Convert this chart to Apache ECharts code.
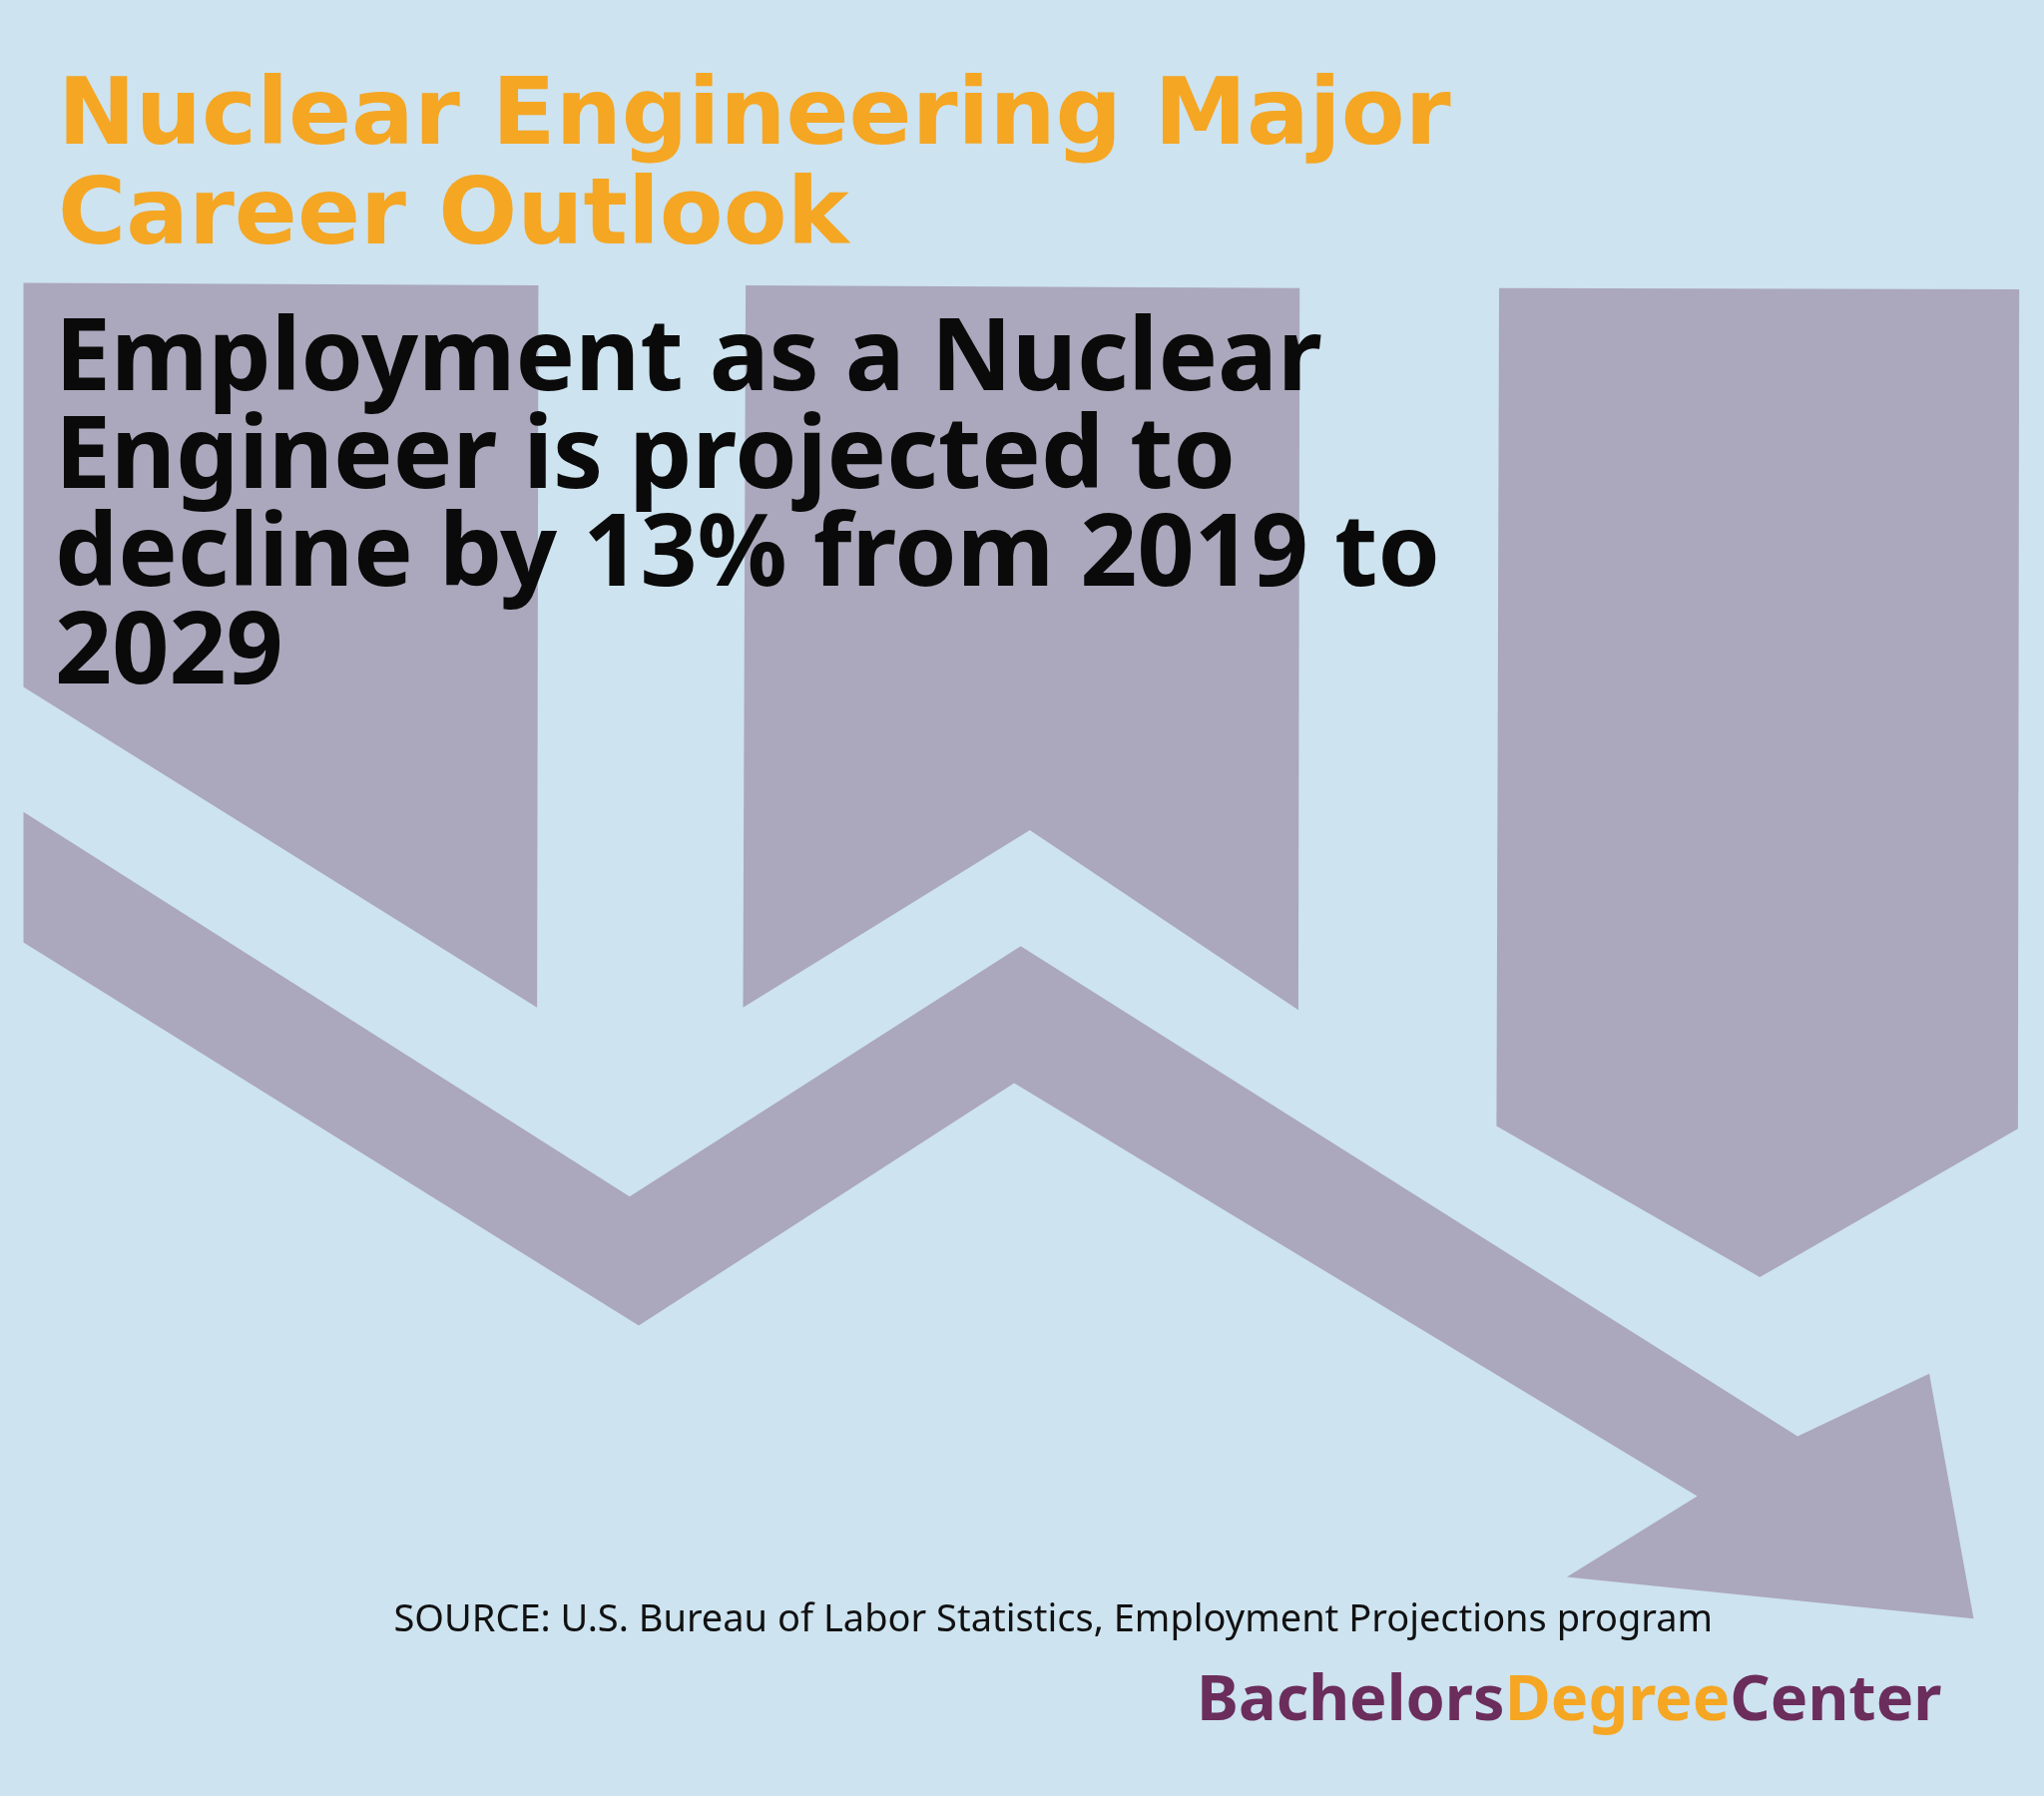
<!DOCTYPE html>
<html><head><meta charset="utf-8">
<script src="https://cdn.jsdelivr.net/npm/echarts@6/dist/echarts.min.js"></script>
<style>html,body{margin:0;padding:0;background:#cde3ef}#c{width:2048px;height:1800px}</style>
</head><body><div id="c"></div>
<script>
// Shapes in reference units (x: 0..1568, y: 0..1378, top-down)
const banner1 = [[18,217],[413,219],[412,773],[18,527]];
const banner2 = [[572,219],[997,221],[996,775],[790,637],[570,773]];
const banner3 = [[1150,221],[1549,222],[1548,866],[1350,980],[1148,864]];
const arrow = [[18,623],[483,918],[783,726],[1379,1102],[1480,1054],[1514,1242],[1202,1210],[1302,1148],[778,831],[490,1017],[18,723]];
const shapes = [banner1, banner2, banner3, arrow];
const titleLines = ["Nuclear Engineering Major","Career Outlook"];
const bodyLines = ["Employment as a Nuclear","Engineer is projected to","decline by 13% from 2019 to","2029"];
const sourceText = "SOURCE: U.S. Bureau of Labor Statistics, Employment Projections program";

const chart = echarts.init(document.getElementById('c'));
const S = 2048/1568;
const graphic = [];
titleLines.forEach((t,i)=>graphic.push({type:'text',z:100,left:58,top:73+i*100,style:{text:t,fill:'#f5a623',font:'900 93px "DejaVu Sans"'}}));
bodyLines.forEach((t,i)=>graphic.push({type:'text',z:100,left:55,top:313+i*98,style:{text:t,fill:'#0a0a0a',font:'bold 100px "Noto Sans"'}}));
graphic.push({type:'text',z:100,left:302*S,top:1229*S,style:{text:sourceText,fill:'#111',font:'38px "Noto Sans"'}});
graphic.push({type:'text',z:100,left:918*S,top:1282*S,style:{rich:{a:{fill:'#6b2d5c',font:'bold 63px "Noto Sans"'},b:{fill:'#f5a623',font:'bold 63px "Noto Sans"'}},text:'{a|Bachelors}{b|Degree}{a|Center}'}});
chart.setOption({
  backgroundColor:'#cde3ef',
  animation:false,
  grid:{left:0,right:0,top:0,bottom:0},
  xAxis:{type:'value',min:0,max:1568,show:false},
  yAxis:{type:'value',min:0,max:1378,inverse:true,show:false},
  series:[{type:'custom',z:1,data:shapes.map((s,i)=>[i]),
    renderItem:(params,api)=>{
      const pts = shapes[params.dataIndex].map(p=>api.coord(p));
      return {type:'polygon',shape:{points:pts},style:{fill:'#aba7bc'}};
    }}],
  graphic:graphic
});
</script></body></html>
